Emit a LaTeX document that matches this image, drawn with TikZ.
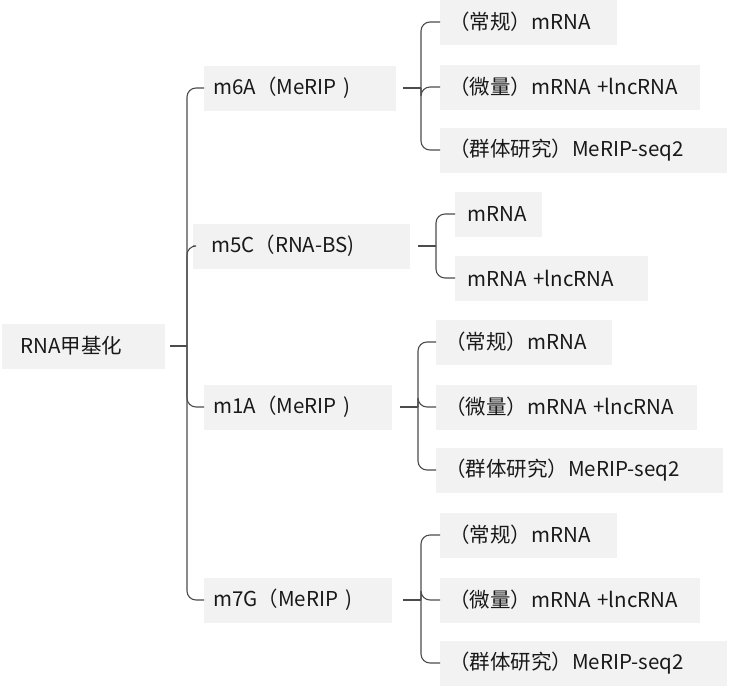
\documentclass[tikz,border=0pt]{standalone}
\usepackage{fontspec}
\setmainfont{Noto Sans CJK SC}
\begin{document}
\begin{tikzpicture}[x=1pt,y=-1pt,
  bx/.style={fill=black!5,anchor=west,minimum height=45pt,inner xsep=12pt,text width=#1pt-24pt,align=left,font=\fontsize{20.5}{22}\selectfont,text=black!90},
  ln/.style={draw=black!70,line width=1.1pt,rounded corners=9pt}]
\useasboundingbox (0,0) rectangle (740,694);
\node[bx=163,inner xsep=18pt,text width=127pt] (r) at (2,346) {RNA甲基化};
\node[bx=192,inner xsep=9pt,text width=174pt] (a) at (204,88) {m6A（MeRIP )};
\node[bx=217,inner xsep=18pt,text width=181pt] (b) at (193,246) {m5C（RNA-BS)};
\node[bx=188,inner xsep=9pt,text width=170pt] (c) at (204,407) {m1A（MeRIP )};
\node[bx=188,inner xsep=9pt,text width=170pt] (d) at (204,600) {m7G（MeRIP )};
\coordinate (rj) at (187,346);
\draw[ln,rounded corners=0] (r.east)++(5,0) coordinate (rs) -- (rj);
\foreach \n in {a,b,c,d} \draw[ln] (rj) |- (\n.west);
% m6A
\node[bx=177,inner xsep=9pt,text width=159pt] (a1) at (440,22) {（常规）mRNA};
\node[bx=260,inner xsep=9pt,text width=242pt] (a2) at (440,87) {（微量）mRNA +lncRNA};
\node[bx=287,inner xsep=9pt,text width=269pt] (a3) at (440,150) {（群体研究）MeRIP-seq2};
\coordinate (aj) at (421,88);
\draw[ln,rounded corners=0] (403,88) -- (aj);
\foreach \n in {a1,a2,a3} \draw[ln] (aj) |- (\n.west);
% m5C
\node[bx=87] (b1) at (455,214) {mRNA};
\node[bx=193] (b2) at (455,278) {mRNA +lncRNA};
\coordinate (bj) at (436,246);
\draw[ln,rounded corners=0] (418,246) -- (bj);
\foreach \n in {b1,b2} \draw[ln] (bj) |- (\n.west);
% m1A
\node[bx=176,inner xsep=9pt,text width=158pt] (c1) at (436,342) {（常规）mRNA};
\node[bx=261,inner xsep=9pt,text width=243pt] (c2) at (436,407) {（微量）mRNA +lncRNA};
\node[bx=287,inner xsep=9pt,text width=269pt] (c3) at (436,470) {（群体研究）MeRIP-seq2};
\coordinate (cj) at (418,407);
\draw[ln,rounded corners=0] (400,407) -- (cj);
\foreach \n in {c1,c2,c3} \draw[ln] (cj) |- (\n.west);
% m7G
\node[bx=177,inner xsep=9pt,text width=159pt] (d1) at (440,535) {（常规）mRNA};
\node[bx=260,inner xsep=9pt,text width=242pt] (d2) at (440,600) {（微量）mRNA +lncRNA};
\node[bx=287,inner xsep=9pt,text width=269pt] (d3) at (440,663) {（群体研究）MeRIP-seq2};
\coordinate (dj) at (421,600);
\draw[ln,rounded corners=0] (403,600) -- (dj);
\foreach \n in {d1,d2,d3} \draw[ln] (dj) |- (\n.west);
\end{tikzpicture}
\end{document}
